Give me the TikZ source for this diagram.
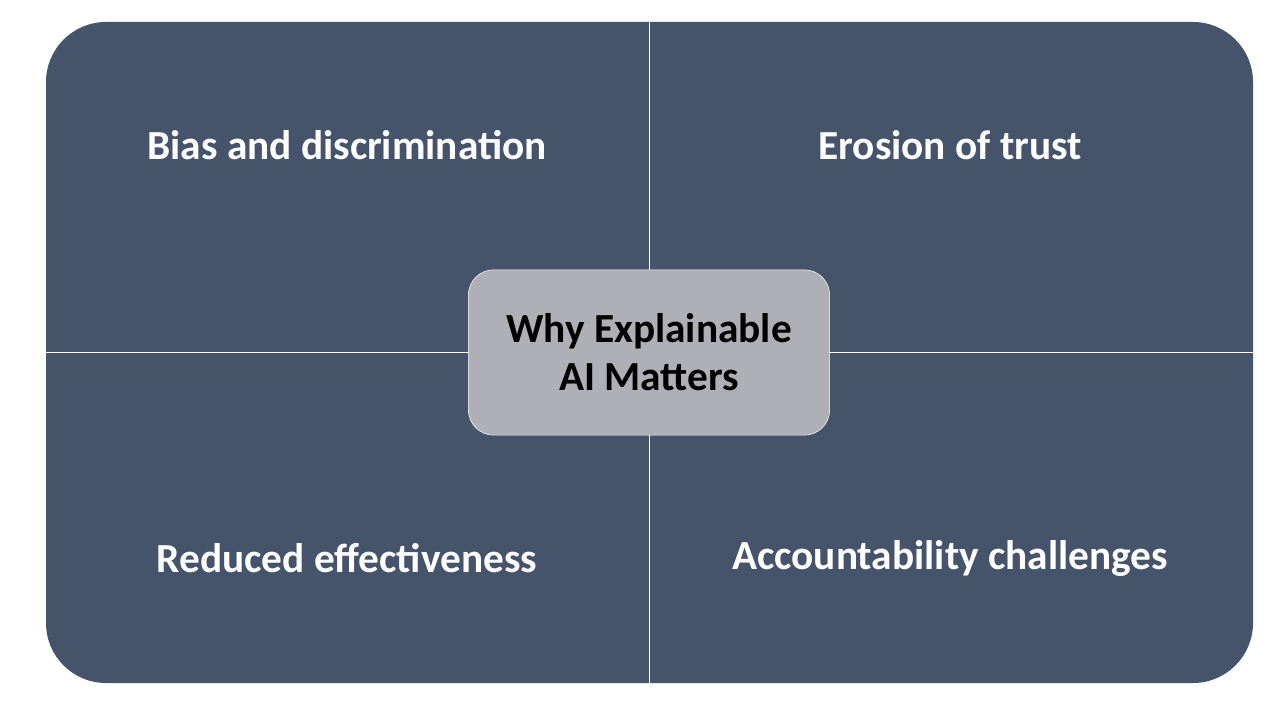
\documentclass[tikz,border=0pt]{standalone}
\usepackage{fontspec}
\setmainfont{Carlito}
\definecolor{slate}{HTML}{45546B}
\definecolor{hubgray}{HTML}{AEB0B6}
\tikzset{
  quadtext/.style={text=white,font=\bfseries\fontsize{31}{36}\selectfont},
  hub/.style={draw=white,fill=hubgray,rounded corners=19pt,minimum width=271pt,minimum height=124pt,align=center,font=\bfseries\fontsize{31}{36}\selectfont}
}
\begin{document}
\begin{tikzpicture}[x=0.75pt,y=-0.75pt]
  \useasboundingbox (0,0) rectangle (1280,720);
  % background panel
  \fill[slate,rounded corners=45pt] (46,22) rectangle (1253,683);
  \draw[white,line width=0.8pt] (649.5,22) -- (649.5,683);
  \draw[white,line width=0.8pt] (46,352.5) -- (1253,352.5);
  % quadrant labels
  \node[quadtext] (bias) at (347,145) {Bias and discrimination};
  \node[quadtext] (trust) at (950,145) {Erosion of trust};
  \node[quadtext] (effect) at (347,558) {Reduced effectiveness};
  \node[quadtext] (account) at (950,558) {Accountability challenges};
  % centre
  \node[hub] (why) at (649,352.5) {Why Explainable\\AI Matters};
\end{tikzpicture}
\end{document}
